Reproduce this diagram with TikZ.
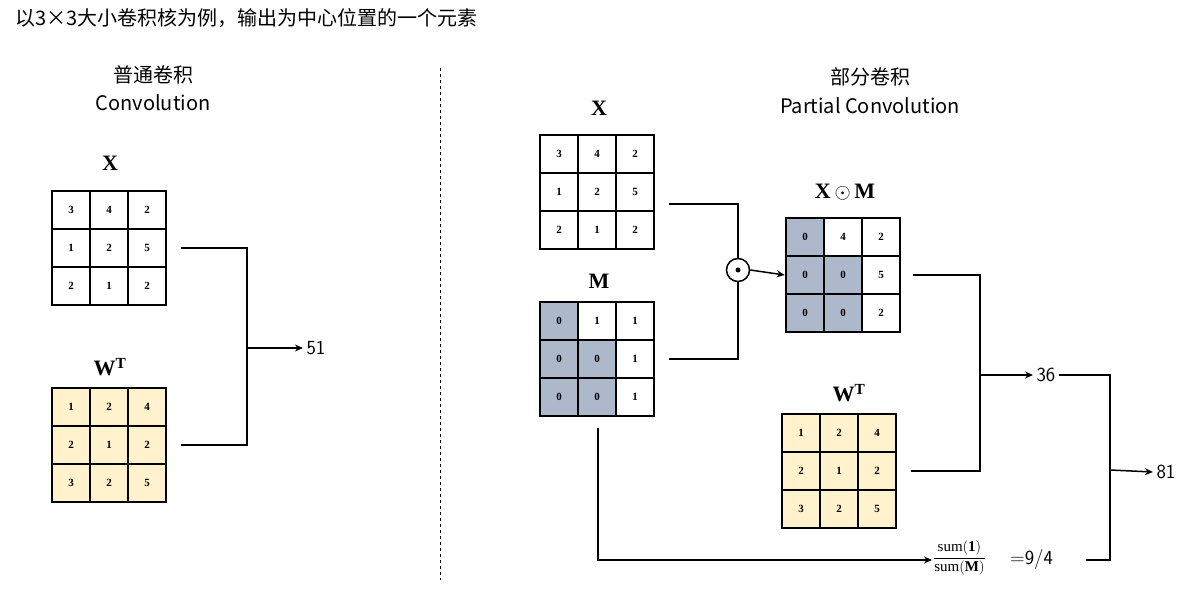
\documentclass[tikz,border=0pt]{standalone}
\usepackage{fontspec}
\setmainfont{Liberation Serif}
\newfontfamily\cjk{Noto Sans CJK SC}
\usetikzlibrary{arrows.meta}
\definecolor{gcell}{RGB}{173,185,202}
\definecolor{ycell}{RGB}{255,242,204}
\tikzset{
 cell/.style={draw=black,line width=2.6pt,minimum size=38pt,inner sep=0pt,font=\bfseries\fontsize{11}{11}\selectfont,anchor=center},
 lab/.style={font=\bfseries\fontsize{22}{22}\selectfont},
 sans/.style={font=\cjk\fontsize{20}{22}\selectfont},
 conn/.style={line width=1.5pt},
 arr/.style={line width=1.5pt,-{Stealth[length=8pt,width=7pt]}}
}
% #1 name, #2 x0, #3 y0, #4 list of value/fill
\newcommand\mygrid[4]{%
 \foreach \v/\f [count=\i from 0] in {#4}{%
  \pgfmathtruncatemacro\r{div(\i,3)}\pgfmathtruncatemacro\c{mod(\i,3)}%
  \node[cell,fill=\f] (#1-\r-\c) at ({#2+19+38*\c},{#3+19+38*\r}) {\v};}}
\begin{document}
\begin{tikzpicture}[x=1pt,y=-1pt]
\useasboundingbox (0,0) rectangle (1189,593);
\node[sans,anchor=west] (title) at (12,18) {以3×3大小卷积核为例，输出为中心位置的一个元素};
\draw[dashed,line width=0.8pt] (440,68) -- (440,580);
% left
\node[sans] (t1) at (153,75) {普通卷积};
\node[sans] (t2) at (153,103) {Convolution};
\node[lab] (lX) at (110,163) {X};
\mygrid{lx}{52}{191}{3/white,4/white,2/white,1/white,2/white,5/white,2/white,1/white,2/white}
\node[lab] (lW) at (110,367) {W$^{\mathbf{T}}$};
\mygrid{lw}{52}{388}{1/ycell,2/ycell,4/ycell,2/ycell,1/ycell,2/ycell,3/ycell,2/ycell,5/ycell}
\coordinate (j1) at (247,348);
\draw[conn] ([xshift=14pt]lx-1-2.east) -| (j1) |- ([xshift=14pt]lw-1-2.east);
\node[font=\sffamily\fontsize{20}{20}\selectfont,anchor=west] (r51) at (303,348) {51};
\draw[arr] (j1) -- (r51.west);
% right
\node[sans] (t3) at (870,77) {部分卷积};
\node[sans] (t4) at (870,106) {Partial Convolution};
\node[lab] (rX) at (599,108) {X};
\mygrid{rx}{540}{135}{3/white,4/white,2/white,1/white,2/white,5/white,2/white,1/white,2/white}
\node[lab] (rM) at (599,281) {M};
\mygrid{rm}{540}{302}{0/gcell,1/white,1/white,0/gcell,0/gcell,1/white,0/gcell,0/gcell,1/white}
\node[lab] (rXM) at (845,192) {X\,$\odot$\,M};
\mygrid{xm}{786}{218}{0/gcell,4/white,2/white,0/gcell,0/gcell,5/white,0/gcell,0/gcell,2/white}
\node[lab] (rW) at (849,393) {W$^{\mathbf{T}}$};
\mygrid{rw}{782}{414}{1/ycell,2/ycell,4/ycell,2/ycell,1/ycell,2/ycell,3/ycell,2/ycell,5/ycell}
\node[draw,circle,line width=1.5pt,minimum size=23pt,inner sep=0pt] (od) at (738,270) {};
\fill (od) circle (2.5pt);
\draw[conn] ([xshift=14pt,yshift=-12pt]rx-1-2.east) -| (od.north);
\draw[conn] ([xshift=14pt]rm-1-2.east) -| (od.south);
\draw[arr] (od.east) -- (xm-1-0.west);
\coordinate (j2) at (980,375);
\draw[conn] ([xshift=12pt]xm-1-2.east) -| (j2) |- ([xshift=14pt]rw-1-2.east);
\node[font=\sffamily\fontsize{20}{20}\selectfont,anchor=west] (r36) at (1033,375) {36};
\draw[arr] (j2) -- (r36.west);
\node[anchor=west,inner sep=1pt] (frac) at (932,558) {\fontsize{15}{15}\selectfont$\displaystyle\frac{\mathrm{sum}(\mathbf{1})}{\mathrm{sum}(\mathbf{M})}$};
\node[font=\sffamily\fontsize{20}{20}\selectfont,anchor=west,inner sep=0pt] (eq) at (1010,559) {=9/4};
\coordinate (ms) at (598,428);
\draw[arr] (ms) -- (598,560) -- (frac.west |- 0,560);
\coordinate (j3) at (1110,470);
\draw[conn] (r36.east) -| (j3) |- (1086,560);
\node[font=\sffamily\fontsize{20}{20}\selectfont,anchor=west] (r81) at (1153,472) {81};
\draw[arr] (j3) -- (r81.west);
\end{tikzpicture}
\end{document}
